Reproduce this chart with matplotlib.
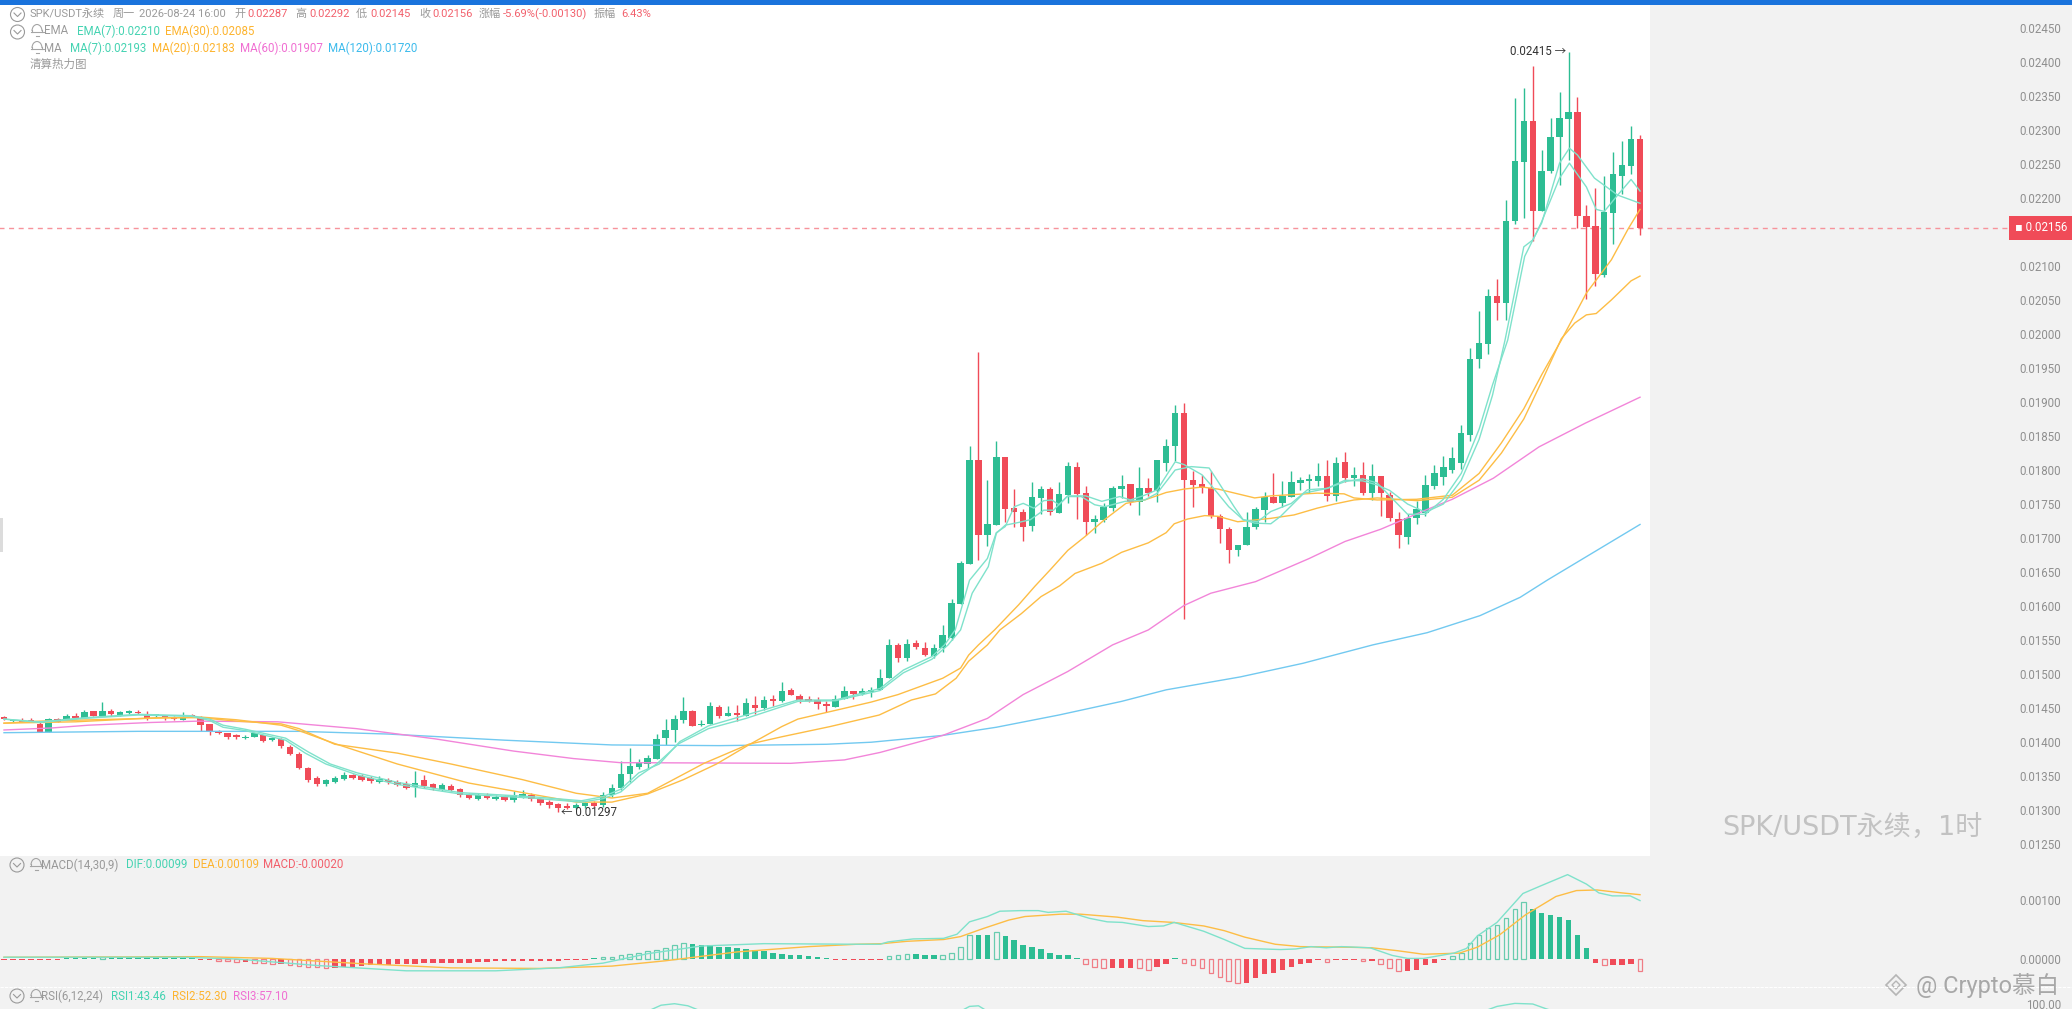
import numpy as np
import matplotlib
matplotlib.use('Agg')
import matplotlib.pyplot as plt
from matplotlib.patches import Circle, Rectangle, Arc, Polygon

plt.rcParams['font.family'] = ['Roboto', 'Noto Sans CJK SC', 'DejaVu Sans']

# candles
opens = [
    .01437, .01431, .01432, .01432, .01427, .01415, .01434, .01432, .01439, .01436,
    .01446, .01439, .01446, .01440, .01443, .01445, .01440, .01438, .01439, .01437,
    .01433, .01440, .01437, .01427, .01415, .01414, .01410, .01406, .01407, .01410,
    .01403, .01405, .01393, .01383, .01362, .01347, .01338, .01341, .01346, .01352,
    .01350, .01347, .01342, .01345, .01341, .01339, .01334, .01344, .01338, .01330,
    .01336, .01331, .01324, .01317, .01323, .01317, .01320, .01315, .01320, .01322,
    .01316, .01312, .01309, .01307, .01304, .01306, .01310, .01308, .01322, .01333,
    .01353, .01363, .01368, .01376, .01406, .01418, .01433, .01446, .01425, .01427,
    .01452, .01438, .01443, .01439, .01455, .01450, .01462, .01461, .01477, .01468,
    .01463, .01462, .01456, .01452, .01463, .01476, .01471, .01474, .01477, .01494,
    .01543, .01524, .01546, .01539, .01527, .01539, .01553, .01603, .01662, .01815,
    .01705, .01719, .01819, .01744, .01739, .01718, .01759, .01772, .01737, .01764,
    .01804, .01766, .01723, .01727, .01744, .01772, .01779, .01753, .01774, .01769,
    .01811, .01836, .01884, .01786, .01779, .01774, .01733, .01714, .01683, .01690,
    .01716, .01741, .01760, .01751, .01761, .01781, .01784, .01784, .01791, .01762,
    .01812, .01788, .01793, .01766, .01791, .01763, .01728, .01701, .01730, .01737,
    .01776, .01790, .01800, .01811, .01851, .01963, .01985, .02055, .02045, .02166,
    .02253, .02313, .02181, .02239, .02290, .02316, .02326, .02174, .02158, .02087,
    .02178, .02232, .02247, .02287]
closes = [
    .01434, .01432, .01430, .01430, .01415, .01434, .01430, .01439, .01436, .01444,
    .01439, .01446, .01441, .01444, .01446, .01443, .01436, .01441, .01437, .01434,
    .01436, .01438, .01426, .01417, .01413, .01408, .01407, .01407, .01413, .01402,
    .01406, .01394, .01382, .01362, .01345, .01338, .01344, .01347, .01352, .01348,
    .01345, .01343, .01346, .01341, .01337, .01333, .01340, .01336, .01332, .01337,
    .01330, .01322, .01318, .01323, .01318, .01320, .01315, .01322, .01324, .01316,
    .01310, .01308, .01304, .01304, .01308, .01310, .01307, .01323, .01333, .01353,
    .01365, .01371, .01377, .01405, .01418, .01434, .01446, .01424, .01427, .01453,
    .01438, .01443, .01440, .01457, .01450, .01462, .01461, .01476, .01469, .01462,
    .01461, .01456, .01453, .01463, .01476, .01471, .01475, .01477, .01494, .01543,
    .01524, .01545, .01540, .01528, .01539, .01558, .01604, .01663, .01815, .01705,
    .01720, .01819, .01743, .01739, .01716, .01760, .01772, .01739, .01765, .01806,
    .01765, .01723, .01728, .01746, .01773, .01777, .01753, .01774, .01766, .01814,
    .01836, .01884, .01785, .01778, .01774, .01733, .01713, .01683, .01690, .01717,
    .01742, .01760, .01751, .01762, .01782, .01785, .01787, .01791, .01762, .01810,
    .01788, .01793, .01766, .01791, .01766, .01730, .01704, .01730, .01743, .01778,
    .01796, .01805, .01817, .01854, .01963, .01986, .02055, .02045, .02166, .02254,
    .02313, .02181, .02240, .02290, .02317, .02326, .02174, .02157, .02088, .02179,
    .02235, .02248, .02287, .02156]
highs = [
    .01438, .01433, .01435, .01435, .01431, .01435, .01435, .01442, .01443, .01447,
    .01446, .01459, .01449, .01446, .01447, .01447, .01446, .01442, .01440, .01439,
    .01445, .01442, .01439, .01427, .01418, .01414, .01412, .01410, .01414, .01410,
    .01407, .01406, .01396, .01386, .01364, .01350, .01346, .01350, .01356, .01354,
    .01353, .01350, .01350, .01348, .01345, .01343, .01358, .01352, .01340, .01340,
    .01339, .01333, .01326, .01325, .01326, .01323, .01322, .01328, .01330, .01325,
    .01319, .01315, .01311, .01310, .01311, .01312, .01313, .01327, .01338, .01372,
    .01392, .01375, .01381, .01412, .01434, .01440, .01466, .01447, .01432, .01459,
    .01454, .01453, .01455, .01465, .01468, .01468, .01470, .01489, .01480, .01471,
    .01468, .01466, .01460, .01469, .01483, .01476, .01480, .01481, .01508, .01551,
    .01546, .01552, .01550, .01547, .01545, .01572, .01610, .01667, .01835, .01974,
    .01785, .01842, .01819, .01772, .01742, .01782, .01777, .01775, .01782, .01812,
    .01812, .01777, .01734, .01751, .01777, .01793, .01780, .01805, .01788, .01814,
    .01846, .01895, .01899, .01798, .01793, .01799, .01736, .01717, .01690, .01738,
    .01745, .01768, .01795, .01784, .01799, .01790, .01794, .01811, .01815, .01819,
    .01827, .01805, .01812, .01809, .01791, .01768, .01738, .01735, .01755, .01792,
    .01807, .01821, .01834, .01866, .01980, .02033, .02066, .02081, .02197, .02347,
    .02361, .02393, .02271, .02318, .02355, .02415, .02348, .02190, .02214, .02232,
    .02267, .02284, .02306, .02292]
lows = [
    .01433, .01429, .01429, .01429, .01415, .01415, .01429, .01432, .01434, .01436,
    .01438, .01439, .01439, .01439, .01442, .01442, .01433, .01437, .01433, .01433,
    .01433, .01438, .01417, .01410, .01412, .01405, .01405, .01405, .01407, .01401,
    .01402, .01392, .01381, .01360, .01342, .01336, .01336, .01340, .01345, .01346,
    .01343, .01340, .01340, .01338, .01335, .01331, .01320, .01333, .01330, .01328,
    .01328, .01320, .01316, .01315, .01316, .01315, .01313, .01312, .01318, .01313,
    .01308, .01304, .01297, .01302, .01302, .01304, .01305, .01305, .01320, .01330,
    .01342, .01360, .01360, .01376, .01396, .01400, .01428, .01424, .01424, .01427,
    .01436, .01438, .01431, .01439, .01441, .01447, .01453, .01459, .01469, .01458,
    .01459, .01449, .01445, .01452, .01463, .01463, .01470, .01467, .01477, .01494,
    .01518, .01520, .01537, .01526, .01524, .01533, .01550, .01603, .01662, .01668,
    .01688, .01719, .01724, .01717, .01696, .01711, .01736, .01734, .01737, .01752,
    .01728, .01705, .01708, .01723, .01740, .01759, .01749, .01734, .01762, .01753,
    .01799, .01813, .01581, .01746, .01766, .01729, .01693, .01664, .01673, .01690,
    .01714, .01724, .01751, .01746, .01761, .01771, .01766, .01776, .01754, .01755,
    .01783, .01776, .01763, .01756, .01732, .01725, .01685, .01692, .01720, .01733,
    .01772, .01778, .01795, .01802, .01843, .01950, .01970, .02020, .02021, .02162,
    .02170, .02136, .02181, .02236, .02219, .02256, .02155, .02051, .02071, .02083,
    .02132, .02206, .02235, .02145]

# moving averages: (candle index, price) read at the bends
ema7_x = [0, 4, 9, 15, 21, 23, 24.5, 27, 31.5, 34, 36.5, 39.5, 44, 51, 59, 64.6, 67, 69, 71, 73.3, 75.6, 77, 78.8, 83, 88.8, 93, 98, 100.6, 103.8, 105.2,
          106.4, 108, 110, 111, 112, 113, 114, 115.2, 116.3, 117.2, 118, 119, 121, 122.8, 124.8, 126, 127.6, 129, 131, 132, 134, 135, 137, 138.6, 140.2, 141.7, 144, 145.8, 148, 150, 152, 153.6,
          155, 157, 159, 161, 163, 165, 166.5, 168.2, 170.1, 171.2, 172, 174, 175.1, 177, 178.1, 179, 180.5, 182, 183]
ema7_y = [.01434, .01430, .01436, .01441, .01439, .01434, .01425, .01419, .01406, .01386, .01368, .01355, .01341, .01326, .01320, .01314, .01320, .01331, .01355, .01368, .01401, .01411, .01424, .01440, .01462, .01462, .01479, .01506, .01526, .01543,
          .01565, .01638, .01670, .01708, .01717, .01746, .01751, .01744, .01755, .01756, .01749, .01762, .01762, .01754, .01761, .01756, .01763, .01771, .01812, .01808, .01793, .01778, .01746, .01727, .01724, .01739, .01751, .01771, .01773, .01783, .01787, .01781,
          .01762, .01735, .01735, .01757, .01795, .01860, .01925, .01991, .02114, .02143, .02165, .02229, .02251, .02216, .02183, .02180, .02204, .02227, .02210]
ma7_x = [0, 4, 9, 15, 21, 23, 24.5, 27, 31.5, 33.7, 36, 39.5, 44, 51, 59, 64.6, 67, 69, 71, 73, 75.5, 77, 78.8, 83, 88.8, 93, 98, 100.6, 103.8, 105.6,
         107, 108.3, 110.1, 111, 112, 113.5, 114.8, 116.3, 117.4, 118.9, 120.5, 122, 123.1, 125.4, 127.6, 129, 131, 132.8, 134.8, 135.8, 137.6, 138.6, 139.9, 141.7, 142.8, 145.4, 148, 150, 152, 153.6,
         155, 157, 159, 161, 163, 165, 166.5, 167.9, 170, 171, 172, 174, 175.1, 176, 177.9, 180.5, 183]
ma7_y = [.01434, .01429, .01435, .01440, .01438, .01432, .01422, .01417, .01403, .01384, .01368, .01352, .01338, .01324, .01318, .01312, .01317, .01327, .01350, .01368, .01398, .01408, .01420, .01435, .01460, .01461, .01476, .01502, .01522, .01543,
         .01565, .01619, .01658, .01707, .01719, .01723, .01727, .01741, .01741, .01761, .01761, .01749, .01746, .01754, .01756, .01766, .01800, .01805, .01803, .01783, .01746, .01727, .01722, .01721, .01732, .01766, .01773, .01785, .01784, .01778,
         .01770, .01750, .01738, .01750, .01785, .01845, .01910, .01991, .02128, .02138, .02163, .02251, .02273, .02263, .02229, .02204, .02192]
ma20_x = [0, 4, 13, 22, 26, 31, 33, 37, 44, 52, 58, 64, 68, 72, 76, 79.7, 83.3, 87, 88.8, 97, 100, 105, 107, 107.9, 109,
          110.8, 113.5, 115.3, 117, 119, 120.9, 123.1, 125.5, 127.6, 130, 132, 134, 135.8, 138, 139.9, 141.7, 146.9, 149.9, 151, 153.6,
          158, 162, 165, 167.5, 170, 172, 174.2, 177, 179.8, 181.7, 183]
ma20_y = [.01428, .01431, .01434, .01437, .01433, .01425, .01417, .01398, .01368, .01340, .01326, .01312, .01312, .01324, .01345, .01368, .01396, .01423, .01434, .01459, .01470, .01494, .01509, .01528, .01543,
          .01565, .01602, .01629, .01653, .01682, .01702, .01727, .01751, .01756, .01767, .01772, .01775, .01772, .01765, .01759, .01762, .01766, .01765, .01759, .01756,
          .01757, .01763, .01795, .01840, .01890, .01940, .01991, .02060, .02109, .02155, .02183]
ema30_x = [0, 8, 17, 22, 26, 31, 33, 37, 44, 50, 58, 64, 68, 72, 78.3, 83.3, 87, 92.4, 97.9, 101.5, 104.2, 106.5, 107.9, 110,
           111.4, 113.8, 116, 118.1, 119.8, 122.8, 125, 128, 130, 130.9, 132.4, 134.3, 135.8, 138, 141.7, 144.3, 146.9, 148.8, 151, 153.6,
           158, 162, 165, 167.5, 170, 172, 174.2, 175.7, 177, 178.1, 179.8, 182, 183]
ema30_y = [.01428, .01430, .01436, .01436, .01431, .01427, .01420, .01397, .01384, .01368, .01345, .01325, .01318, .01325, .01369, .01397, .01408, .01423, .01440, .01462, .01471, .01494, .01519, .01543,
           .01565, .01589, .01614, .01630, .01648, .01663, .01679, .01693, .01708, .01721, .01728, .01733, .01732, .01724, .01729, .01734, .01744, .01750, .01756, .01759,
           .01755, .01760, .01785, .01825, .01875, .01930, .01993, .02016, .02028, .02030, .02050, .02078, .02085]
ma60_x = [0, 5.4, 9.4, 16.4, 21.7, 30.6, 39.4, 48.2, 57, 63.7, 68.9, 88, 94, 98, 105, 110, 114, 119, 124,
          128, 132, 135, 140, 146, 150, 154, 159, 162, 166.6, 171.7, 176.9, 183]
ma60_y = [.01418, .01421, .01425, .01429, .01431, .01430, .01420, .01405, .01387, .01376, .01370, .01369, .01374, .01385, .01410, .01435, .01470, .01504, .01543,
          .01565, .01601, .01619, .01636, .01670, .01695, .01713, .01741, .01757, .01788, .01834, .01869, .01907]
ma120_x = [0, 15, 33, 43, 56, 68, 80, 92, 97, 105, 111, 118, 125, 130, 138.3, 145.3, 153.1, 159.2, 165.1, 169.6, 172.6, 183]
ma120_y = [.01414, .01416, .01416, .01412, .01403, .01396, .01395, .01397, .01400, .01410, .01422, .01440, .01460, .01477, .01496, .01516, .01543, .01561, .01586, .01613, .01638, .01720]

# MACD histogram in 0.00001 units, one bar per candle
macd_hist = [
    -1, -1, -2, -2, -2, -1, -1, 1, 1, 2, 2, 3, 3, 3, 3, 3, 3, 3, 2, 2,
    2, 2, -1, -2, -3, -4, -5, -5, -6, -7, -8, -8, -10, -12, -13, -14, -15, -15, -14, -13,
    -12, -11, -10, -10, -9, -9, -8, -7, -7, -6, -6, -6, -6, -5, -5, -4, -3, -3, -3, -3,
    -3, -3, -3, -2, -2, -1, 2, 3, 4, 6, 8, 10, 13, 16, 19, 23, 27, 26, 24, 23,
    21, 20, 18, 17, 15, 13, 11, 9, 7, 6, 5, 3, 1, -1, -1, -1, -1, -1, -2,
    5, 6, 8, 8, 7, 6, 7, 11, 20, 41, 41, 40, 46, 39, 33, 24, 20, 17, 10, 7,
    7, 2, -8, -14, -16, -15, -15, -15, -16, -18, -13, -8, 2, -6, -11, -15, -24, -30, -37, -40,
    -40, -32, -26, -23, -18, -13, -8, -7, -2, -5, -2, -2, -2, -4, -3, -9, -15, -21, -20, -18,
    -11, -6, -2, 5, 10, 27, 40, 52, 57, 70, 84, 96, 85, 78, 75, 72, 66, 40, 19, -6,
    -11, -11, -10, -8, -20]
dif_x = [0, 20, 26, 35, 45, 55, 62, 67, 72, 78, 85, 95.4, 98, 98.9, 101.7, 105.1, 106.6, 108, 110, 111.4, 113.7, 115.7, 116.8, 118.8, 121.4, 123.4, 125.1, 128, 129.7, 130.9,
         134.2, 136.5, 138.8, 142.8, 144.5, 146.2, 147.9, 149.6, 152.8, 155.3, 157, 158.8, 162.2, 163.6, 164.8, 167, 169.9, 171.9, 174.9, 177, 178.4, 179.9, 181.9, 183]
dif_y = [3, 3, 0, -11, -20, -20, -15, -7, 9, 22, 26, 25, 25, 29, 34, 35, 42, 63, 72, 81, 82, 82, 79, 81, 69, 63, 62, 55, 56, 62,
         47, 33, 18, 16, 17, 21, 19, 21, 19, 6, 1, 1, 10, 18, 39, 62, 111, 124, 143, 127, 112, 107, 107, 99]
dea_x = [0, 22, 30, 40, 50, 60, 68, 74, 82, 90, 95.4, 98.2, 101, 105.1, 107, 109.6, 112.4, 114.2, 118.2, 120.4, 124.5, 127.4, 130.8, 134.2, 136.5, 138.8, 142.2, 145, 150.2, 153,
         155.9, 158.8, 162.8, 164.8, 167.3, 170.2, 173.6, 175.9, 178.2, 181, 183]
dea_y = [3, 4, 1, -8, -15, -16, -12, -3, 12, 21, 25, 26, 30, 33, 38, 52, 66, 72, 76, 76, 71, 65, 62, 56, 48, 37, 25, 21, 20, 19,
         14, 8, 10, 20, 41, 75, 106, 116, 117, 112, 109]
# only the tops of the RSI line show
rsi_x = [68, 72, 73.5, 75, 76.5, 78, 82, 104, 107, 108, 109, 110, 113, 162, 165, 167, 169, 171, 172.5, 174, 178]
rsi_y = [78, 88, 98, 100.5, 97, 88, 78, 78, 88, 96, 97, 88, 78, 78, 85, 96, 101, 100, 92, 85, 78]

# the 0.02150 tick sits behind the last price tag
price_ticks = [.0125, .0130, .0135, .0140, .0145, .0150, .0155, .0160, .0165, .0170, .0175, .0180, .0185,
               .0190, .0195, .0200, .0205, .0210, .0220, .0225, .0230, .0235, .0240, .0245]

GREEN = '#2dbd93'
RED = '#f04b58'
TEAL = '#7fe2cb'
ORANGE = '#fdbd45'
PINK = '#f285d9'
BLUE = '#72c9f0'
PANEL = '#f2f2f2'
GREY = '#8f8f8f'
W, H = 2072, 1009
STEP = 8.94  # pixels per candle
PLOT_END = 1650
FONT = 8.3


def pixel_axes(fig, top, bottom):
    ax = fig.add_axes([0, 1 - bottom / H, 1, (bottom - top) / H])
    ax.set_xlim(-4 / STEP, (W - 4) / STEP)
    ax.set_xticks([])
    for s in ax.spines.values():
        s.set_visible(False)
    ax.yaxis.tick_right()
    ax.tick_params(axis='y', length=0, pad=-8, labelsize=FONT, labelcolor=GREY)
    return ax


def right_labels(ax, ticks, fmt):
    ax.set_yticks(ticks)
    ax.set_yticklabels([fmt % t for t in ticks])
    for lab in ax.get_yticklabels():
        lab.set_ha('right')


def draw_candles(ax):
    idx = np.arange(len(opens))
    o, c, h, l = map(np.array, (opens, closes, highs, lows))
    colors = [GREEN if a >= b else RED for a, b in zip(c, o)]
    ax.vlines(idx, l, h, colors=colors, lw=1.0, zorder=2)
    ax.bar(idx, np.maximum(np.abs(c - o), 0.00002), 0.72, bottom=np.minimum(c, o), color=colors, zorder=3)


def draw_hist(ax):
    hist = np.array(macd_hist) * 1e-5
    for i, v in enumerate(hist):
        col = GREEN if v >= 0 else RED
        grow = i > 0 and abs(v) > abs(hist[i - 1])
        if grow and abs(v) > 3e-5:
            ax.bar(i, v, 0.52, facecolor='none', edgecolor=col, lw=0.9, alpha=0.7, zorder=2)
        else:
            ax.bar(i, v, 0.62, color=col, zorder=2)


def draw_chevron(ov, x, y):
    ov.add_patch(Circle((x, y), 7, fill=False, ec='#9a9a9a', lw=0.8))
    ov.plot([x - 3.5, x, x + 3.5], [y - 1.5, y + 2, y - 1.5], color='#9a9a9a', lw=0.8)


def draw_bell(ov, x, y):
    ov.add_patch(Arc((x, y), 10, 13, theta1=180, theta2=360, ec='#a5a5a5', lw=0.8))
    ov.plot([x - 6.5, x + 6.5], [y + 1, y + 1], color='#a5a5a5', lw=0.8)
    ov.plot([x - 5, x - 5], [y - 1, y + 1], color='#a5a5a5', lw=0.8)
    ov.plot([x + 5, x + 5], [y - 1, y + 1], color='#a5a5a5', lw=0.8)
    ov.plot([x - 1.5, x + 1.5], [y + 5, y + 5], color='#a5a5a5', lw=0.8)


fig = plt.figure(figsize=(W / 100, H / 100), dpi=100, facecolor=PANEL)

# price panel
ax = pixel_axes(fig, 5, 856)
ax.set_ylim(.0245 - (856 - 27.7) / 68050, .0245 + (27.7 - 5) / 68050)
ax.axvspan((PLOT_END - 4) / STEP, (W - 4) / STEP, color=PANEL, lw=0, zorder=0)
right_labels(ax, price_ticks, '%.5f')

ax.hlines(closes[-1], -1, (2007 - 4) / STEP, colors='#f7939b', lw=1.0, linestyles=(0, (3.6, 3.3)), zorder=1)
draw_candles(ax)
ax.plot(ma120_x, ma120_y, color=BLUE, lw=1.0, zorder=4)
ax.plot(ma60_x, ma60_y, color=PINK, lw=1.0, zorder=4)
ax.plot(ema30_x, ema30_y, color=ORANGE, lw=1.0, zorder=4)
ax.plot(ma20_x, ma20_y, color=ORANGE, lw=1.0, zorder=4)
ax.plot(ma7_x, ma7_y, color=TEAL, lw=1.0, zorder=4)
ax.plot(ema7_x, ema7_y, color=TEAL, lw=1.0, zorder=4)

hi = int(np.argmax(highs))
lo = int(np.argmin(lows))
ax.annotate('%.5f →' % highs[hi], (hi, highs[hi]), xytext=(-2, 0), textcoords='offset points',
            ha='right', va='center', fontsize=FONT, color='#333333', zorder=6)
ax.annotate('← %.5f' % lows[lo], (lo, lows[lo]), xytext=(2, 0), textcoords='offset points',
            ha='left', va='center', fontsize=FONT, color='#333333', zorder=6)
ax.text(1 - 5 / W, closes[-1], '▪ %.5f' % closes[-1], transform=ax.get_yaxis_transform(), ha='right', va='center',
        fontsize=FONT, color='white', zorder=7, family=['Roboto', 'DejaVu Sans'],
        bbox=dict(fc=RED, ec='none', boxstyle='square,pad=0.5'))

# MACD panel
ax_m = pixel_axes(fig, 856, 987)
ax_m.set_facecolor(PANEL)
ax_m.set_ylim(-28 / 59 * .001, 103 / 59 * .001)
right_labels(ax_m, [0, .001], '%.5f')
draw_hist(ax_m)
ax_m.plot(dea_x, np.array(dea_y) * 1e-5, color=ORANGE, lw=1.0, zorder=3)
ax_m.plot(dif_x, np.array(dif_y) * 1e-5, color=TEAL, lw=1.0, zorder=3)

# RSI panel, only a sliver of it is on the picture
ax_r = pixel_axes(fig, 987, 1009)
ax_r.set_facecolor(PANEL)
ax_r.set_ylim(100 - 5 / 0.6, 100 + 17 / 0.6)
right_labels(ax_r, [100], '%.2f')
ax_r.plot(rsi_x, rsi_y, color=TEAL, lw=1.0)

# header text and page furniture, placed in pixels
ov = fig.add_axes([0, 0, 1, 1], facecolor='none', zorder=10)
ov.set_xlim(0, W)
ov.set_ylim(H, 0)
ov.axis('off')
ov.add_patch(Rectangle((0, 0), W, 4.5, color='#1a73dc', lw=0))
ov.add_patch(Rectangle((0, 518), 3, 34, color='#dcdcdc', lw=0))
ov.plot([0, W], [987, 987], color='white', lw=0.8, ls=(0, (3, 1)))


def label(x, y, s, color=GREY, size=FONT):
    ov.text(x, y, s, color=color, fontsize=size, va='center', ha='left')


T_RED = '#f2606c'
T_TEAL = '#45d3b2'
T_ORANGE = '#fdb42f'
T_PINK = '#f06fd2'
T_BLUE = '#3dbbec'
T_GREY = '#9a9a9a'

row = 14
for x, s, c in [(30, 'SPK/USDT永续', T_GREY), (113, '周一', T_GREY), (139, '2026-08-24 16:00', T_GREY),
                (234, '开', T_GREY), (247, '0.02287', T_RED), (295, '高', T_GREY), (309, '0.02292', T_RED),
                (356, '低', T_GREY), (370, '0.02145', T_RED), (419, '收', T_GREY), (432, '0.02156', T_RED),
                (479, '涨幅', T_GREY), (503, '-5.69%(-0.00130)', T_RED), (594, '振幅', T_GREY), (621, '6.43%', T_RED)]:
    label(x, row, s, c, 8.0)

draw_chevron(ov, 17.5, 14.5)
draw_chevron(ov, 17.5, 32)
draw_bell(ov, 37, 31)
draw_bell(ov, 37, 48)
label(44, 31, 'EMA', T_GREY)
label(77, 31, 'EMA(7):0.02210', T_TEAL)
label(165, 31, 'EMA(30):0.02085', T_ORANGE)
label(44, 48, 'MA', T_GREY)
label(70, 48, 'MA(7):0.02193', T_TEAL)
label(152, 48, 'MA(20):0.02183', T_ORANGE)
label(240, 48, 'MA(60):0.01907', T_PINK)
label(328, 48, 'MA(120):0.01720', T_BLUE)
label(30, 64, '清算热力图', T_GREY)

draw_chevron(ov, 17, 865)
draw_bell(ov, 36, 865)
label(41, 865, 'MACD(14,30,9)', T_GREY)
label(126, 865, 'DIF:0.00099', T_TEAL)
label(193, 865, 'DEA:0.00109', T_ORANGE)
label(263, 865, 'MACD:-0.00020', T_RED)

draw_chevron(ov, 17, 996)
draw_bell(ov, 36, 996)
label(41, 996, 'RSI(6,12,24)', T_GREY)
label(111, 996, 'RSI1:43.46', T_TEAL)
label(172, 996, 'RSI2:52.30', T_ORANGE)
label(233, 996, 'RSI3:57.10', T_PINK)

ov.text(1722, 829, 'SPK/USDT永续，1时', color='#c2c2c2', fontsize=19.5, va='center', ha='left',
        family=['DejaVu Sans', 'Noto Sans CJK SC'])
ov.add_patch(Polygon([(1896, 975), (1906, 985), (1896, 995), (1886, 985)], closed=True, fill=False, ec='#b5b5b5', lw=1.2))
ov.add_patch(Polygon([(1896, 981), (1900, 985), (1896, 989), (1892, 985)], closed=True, fill=False, ec='#b5b5b5', lw=1.0))
ov.text(1916, 985, '@ Crypto慕白', color='#a8a8a8', fontsize=17, va='center', ha='left')

fig.savefig('out.png', dpi=100, facecolor=PANEL)
